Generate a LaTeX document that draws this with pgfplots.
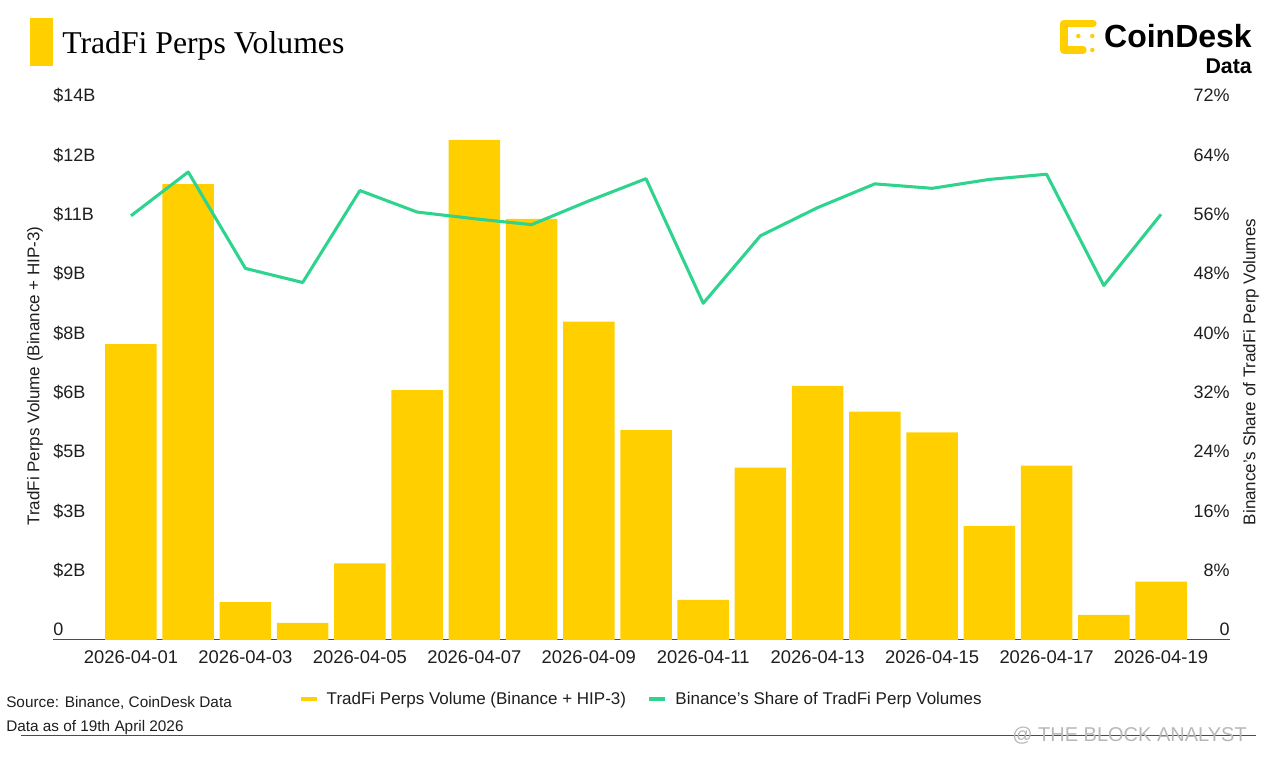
\documentclass[border=0pt]{standalone}
\usepackage{pgfplots}
\pgfplotsset{compat=1.18}
\usepackage{fontspec}
\setmainfont{Liberation Sans}
\newfontfamily\titlefont{Liberation Serif}
\definecolor{barcolor}{RGB}{255,207,0}
\definecolor{linecolor}{RGB}{46,212,142}
\definecolor{txt}{RGB}{30,30,30}
\begin{document}
\begin{tikzpicture}
\useasboundingbox (0,0) rectangle (960pt,567pt);
\begin{axis}[
  at={(39.75pt,87pt)}, anchor=south west,
  scale only axis, width=882.75pt, height=400.5pt,
  xmin=-1.363, xmax=19.206, ymin=0, ymax=14,
  axis x line*=bottom, axis y line*=left,
  y axis line style={draw=none},
  x axis line style={-, draw=black!70, line width=0.75pt},
  tick style={draw=none},
  xtick={0,2,...,18},
  xticklabels={2026-04-01,2026-04-03,2026-04-05,2026-04-07,2026-04-09,2026-04-11,2026-04-13,2026-04-15,2026-04-17,2026-04-19},
  xticklabel style={anchor=base, inner sep=0pt, yshift=-17.6pt, font=\fontsize{13.8}{15}\selectfont, text=txt},
  ytick={0,1.5556,3.1111,4.6667,6.2222,7.7778,9.3333,10.8889,12.4444,14},
  yticklabels={0,\$2B,\$3B,\$5B,\$6B,\$8B,\$9B,\$11B,\$12B,\$14B},
  yticklabel style={anchor=base west, inner sep=0pt, yshift=3pt, font=\fontsize{13.5}{15}\selectfont, text=txt},
]
\addplot[ybar, bar width=0.9, fill=barcolor, draw=none] coordinates {
(0,7.76) (1,11.95) (2,0.99) (3,0.45) (4,2.01) (5,6.55) (6,13.11) (7,11.04) (8,8.35) (9,5.51)
(10,1.05) (11,4.52) (12,6.66) (13,5.99) (14,5.44) (15,2.99) (16,4.57) (17,0.66) (18,1.53)};
\end{axis}
\begin{axis}[
  at={(39.75pt,87pt)}, anchor=south west,
  scale only axis, width=882.75pt, height=400.5pt,
  xmin=-1.363, xmax=19.206, ymin=0, ymax=72,
  axis x line=none, xtick=\empty,
  axis y line*=right,
  y axis line style={draw=none},
  tick style={draw=none},
  ytick={0,8,...,72},
  yticklabels={0,8\%,16\%,24\%,32\%,40\%,48\%,56\%,64\%,72\%},
  yticklabel style={anchor=base east, inner sep=0pt, yshift=3pt, font=\fontsize{13.5}{15}\selectfont, text=txt},
  legend style={at={(0.5,-0.1105)}, anchor=center, draw=none, fill=none,
    legend columns=2, font=\fontsize{12.75}{14}\selectfont, text=txt,
    /tikz/every even column/.append style={column sep=14pt},
    /tikz/every odd column/.append style={column sep=4pt}},
  legend image code/.code={\draw[#1, line width=3pt] (0pt,0pt) -- (12pt,0pt);},
]
\addlegendimage{barcolor}
\addlegendentry{TradFi Perps Volume (Binance + HIP-3)}
\addplot[linecolor, line width=2.3pt, line join=round] coordinates {
(0,57.2) (1,63.1) (2,50.1) (3,48.2) (4,60.6) (5,57.7) (6,56.8) (7,56.0) (8,59.2) (9,62.2)
(10,45.4) (11,54.5) (12,58.3) (13,61.5) (14,60.9) (15,62.1) (16,62.8) (17,47.8) (18,57.4)};
\addlegendentry{Binance's Share of TradFi Perp Volumes}
\end{axis}
\begin{scope}[x=0.75pt, y=-0.75pt, shift={(0pt,567pt)}]
  % title
  \fill[barcolor] (30,18.3) rectangle (52.7,66);
  \node[anchor=base west, inner sep=0pt, text=black] at (62,54) {\titlefont\fontsize{23.8}{26}\selectfont TradFi Perps Volumes};
  % logo
  \draw[barcolor, line width=5.5pt, line cap=round, line join=round] (1093,23.5) -- (1064,23.5) -- (1064,50) -- (1083,50);
  \fill[barcolor] (1078.3,36) circle (2.2) (1092.3,36) circle (2.2) (1092.3,50) circle (2.2);
  \node[anchor=base east, inner sep=0pt, text=black] at (1252,48) {\fontsize{24}{26}\selectfont\bfseries CoinDesk};
  \node[anchor=base east, inner sep=0pt, text=black] at (1252,74) {\fontsize{16}{18}\selectfont\bfseries Data};
  % axis titles
  \node[rotate=90, inner sep=0pt, text=txt] at (35,376) {\fontsize{12.75}{14}\selectfont TradFi Perps Volume (Binance + HIP-3)};
  \node[rotate=90, inner sep=0pt, text=txt] at (1251,372) {\fontsize{12.75}{14}\selectfont Binance's Share of TradFi Perp Volumes};
  % source
  \node[anchor=base west, inner sep=0pt, text=txt] at (6,708) {\fontsize{11.5}{13}\selectfont Source: Binance, CoinDesk Data};
  \node[anchor=base west, inner sep=0pt, text=txt] at (6,731.5) {\fontsize{11.5}{13}\selectfont Data as of 19th April 2026};
  \draw[black!70, line width=0.75pt] (21,735.5) -- (1256,735.5);
  % watermark
  \node[anchor=base west, inner sep=0pt, text=black!28] at (1012,741) {\fontsize{15}{17}\selectfont @ THE BLOCK ANALYST};
\end{scope}
\end{tikzpicture}
\end{document}
